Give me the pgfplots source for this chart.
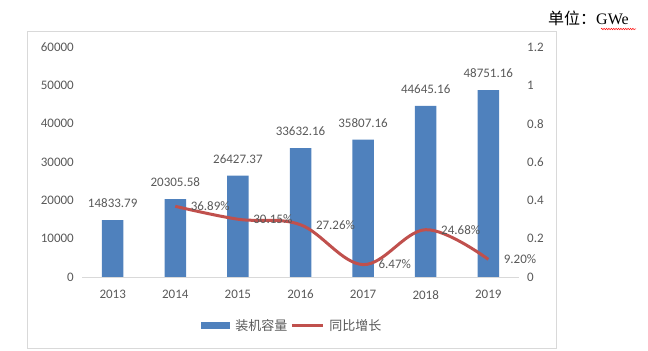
\documentclass[border=0pt]{standalone}
\usepackage{pgfplots}
\pgfplotsset{compat=1.18}
\usepackage{fontspec}
\setmainfont{Carlito}
\newfontfamily\cjk{Noto Sans CJK SC}
\newfontfamily\serif{Liberation Serif}
\usetikzlibrary{decorations.pathmorphing}
\definecolor{barblue}{HTML}{4F81BD}
\definecolor{linered}{HTML}{C0504D}
\definecolor{txtgray}{HTML}{595959}
\definecolor{framegray}{HTML}{D9D9D9}
\begin{document}
\begin{tikzpicture}
\useasboundingbox (0,0) rectangle (648bp,351bp);
\draw[framegray, line width=0.8bp] (27bp,3bp) rectangle (556bp,320bp);
\node[anchor=base west, inner sep=0pt, font=\fontsize{16bp}{18bp}\selectfont] at (548bp,326bp) {{\cjk 单位：}{\serif GWe}};
\draw[red, line width=0.5bp, decorate, decoration={snake, amplitude=0.7bp, segment length=2.4bp}] (601bp,322bp) -- (636bp,322bp);

\pgfplotsset{
  base/.style={
    at={(82bp,74bp)}, anchor=south west,
    scale only axis, width=437bp, height=230bp,
    xmin=-0.49, xmax=6.49,
    tick style={draw=none},
    major tick length=0pt,
    ticklabel style={font=\fontsize{13bp}{15bp}\selectfont, text=txtgray},
    /pgf/number format/assume math mode=true,
    /pgf/number format/1000 sep={},
  }
}
\begin{axis}[base,
  ymin=0, ymax=60000, ytick={0,10000,20000,30000,40000,50000,60000}, scaled y ticks=false,
  axis x line*=bottom, axis y line*=left,
  y axis line style={draw=none},
  x axis line style={draw=framegray, line width=0.8bp, -},
  xtick={0,1,2,3,4,5,6}, xticklabels={2013,2014,2015,2016,2017,2018,2019},
  xticklabel style={anchor=north, inner sep=0pt, yshift=-13bp},
  yticklabel style={anchor=east, inner sep=0pt, xshift=-8bp},
  legend columns=2,
  legend style={at={(0.479,-0.213)}, anchor=center, draw=none, fill=none,
    font=\fontsize{13bp}{15bp}\selectfont\cjk, text=txtgray, inner sep=0pt,
    column sep=0pt, nodes={inner sep=0pt},
    /tikz/every odd column/.append style={column sep=5bp},
    /tikz/every even column/.append style={column sep=3bp}},
]
\addplot[ybar, bar width=21.5bp, fill=barblue, draw=none,
  nodes near coords, point meta=explicit symbolic,
  nodes near coords style={anchor=south, inner sep=0pt, yshift=12bp,
    font=\fontsize{13bp}{15bp}\selectfont, text=txtgray},
  legend image code/.code={\fill[barblue] (0bp,-3.5bp) rectangle (29bp,3.5bp);}]
  coordinates {
    (0,14833.79) [14833.79]
    (1,20305.58) [20305.58]
    (2,26427.37) [26427.37]
    (3,33632.16) [33632.16]
    (4,35807.16) [35807.16]
    (5,44645.16) [44645.16]
    (6,48751.16) [48751.16]
  };
\addlegendentry{装机容量}
\addlegendimage{legend image code/.code={\draw[linered, line width=3bp] (0bp,0bp) -- (31bp,0bp);}}
\addlegendentry{同比增长}
\end{axis}

\begin{axis}[base,
  ymin=0, ymax=1.2, ytick={0,0.2,0.4,0.6,0.8,1,1.2},
  axis x line=none, axis y line*=right,
  y axis line style={draw=none},
  yticklabel style={anchor=west, inner sep=0pt, xshift=8bp, /pgf/number format/fixed},
]
\addplot[linered, line width=3bp, smooth, tension=0.6,
  nodes near coords, point meta=explicit symbolic,
  nodes near coords style={anchor=west, inner sep=0pt, xshift=14bp, yshift=0pt,
    font=\fontsize{13bp}{15bp}\selectfont, text=txtgray}]
  coordinates {
    (1,0.3689) [36.89\%]
    (2,0.3015) [30.15\%]
    (3,0.2726) [27.26\%]
    (4,0.0647) [6.47\%]
    (5,0.2468) [24.68\%]
    (6,0.0920) [9.20\%]
  };
\end{axis}
\end{tikzpicture}
\end{document}
